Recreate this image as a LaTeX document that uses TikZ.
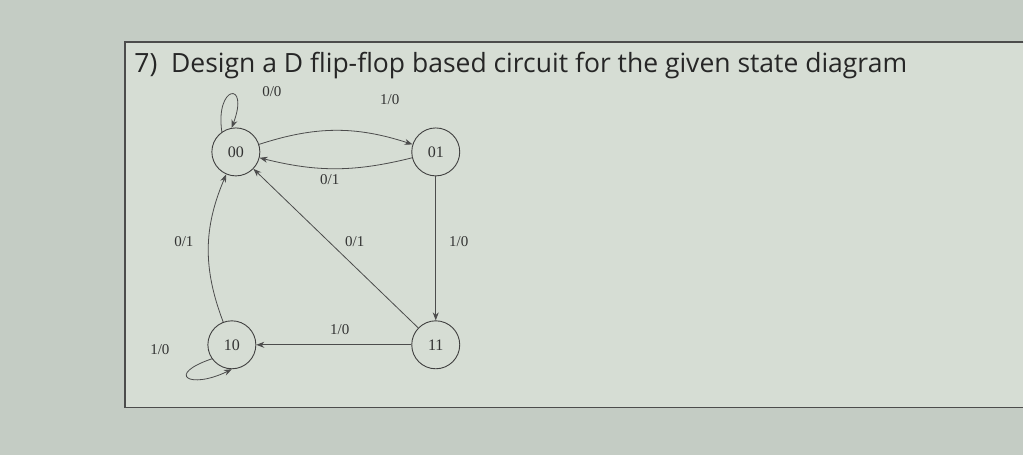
\documentclass[tikz,border=0pt]{standalone}
\usepackage{fontspec}
\setmainfont{Liberation Serif}
\newfontfamily\titlefont{Open Sans}
\usetikzlibrary{arrows.meta}
\begin{document}
\begin{tikzpicture}[x=1pt,y=-1pt,
  st/.style={circle,draw=black!75,line width=0.9pt,minimum size=48pt,inner sep=0pt,font=\fontsize{16}{16}\selectfont,text=black!80},
  lbl/.style={font=\fontsize{15}{15}\selectfont,text=black!80},
  ed/.style={draw=black!70,line width=0.8pt,-{Stealth[length=8pt,width=6pt]}}]
\fill[color={rgb,255:red,196;green,204;blue,196}] (0,0) rectangle (1024,455);
\fill[color={rgb,255:red,214;green,221;blue,212}] (125,42) rectangle (1024,408);
\draw[black!70,line width=1.2pt] (1024,42) -- (125,42) -- (125,408) -- (1024,408);
\node[anchor=west,font=\titlefont\fontsize{26.5}{26}\selectfont,text=black!85] (t) at (131,66) {7)\ \ Design a D flip-flop based circuit for the given state diagram};
\node[st] (a) at (236,152) {00};
\node[st] (b) at (436,152) {01};
\node[st] (d) at (436,345) {11};
\node[st] (c) at (232,345) {10};
\draw[ed] (a) to[bend left=18] (b);
\draw[ed] (b) to[bend left=14] (a);
\draw[ed] (b) -- (d);
\draw[ed] (d) -- (c);
\draw[ed] (c) to[bend left=22] (a);
\draw[ed] (d) -- (a);
\draw[ed] (a.125) .. controls (215,85) and (250,80) .. (a.100);
\draw[ed] (c.215) .. controls (165,375) and (190,390) .. (c.270);
\node[lbl] (l1) at (272,92) {0/0};
\node[lbl] (l2) at (390,100) {1/0};
\node[lbl] (l3) at (330,180) {0/1};
\node[lbl] (l4) at (184,242) {0/1};
\node[lbl] (l5) at (355,242) {0/1};
\node[lbl] (l6) at (459,242) {1/0};
\node[lbl] (l7) at (340,330) {1/0};
\node[lbl] (l8) at (160,350) {1/0};
\end{tikzpicture}
\end{document}
